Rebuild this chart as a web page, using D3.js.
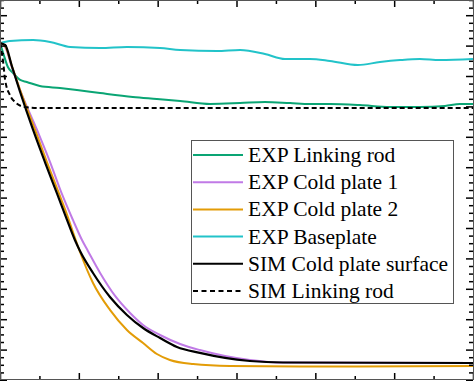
<!DOCTYPE html>
<html><head><meta charset="utf-8">
<script src="https://cdn.jsdelivr.net/npm/d3@7"></script>
<style>html,body{margin:0;padding:0;background:#fff;}svg{display:block;}</style>
</head><body>
<script>
// ---- data (x: time units, y: temperature units) ----
const xLinkExp = [0,0.08,0.20,0.33,0.51,0.68,1.01,1.52,1.95,2.54,3.37,3.98,4.57,5.33,6.09,6.72,7.36,7.86,8.37,9.13,9.89,10.65,11.29,11.67,12];
const yLinkExp = [221.7,215.1,205.9,202.0,197.4,196.1,193.4,192.1,190.8,188.8,186.2,184.9,183.6,181.6,182.2,182.9,182.2,181.6,181.6,180.9,179.6,179.6,180.3,181.6,181.6];

const xCold1 = [0,0.13,0.30,0.51,0.94,1.27,1.57,1.85,2.08,2.23,2.54,2.92,3.30,3.63,4.06,4.57,5.07,5.71,6.34,7.18,12];
const yCold1 = [221.7,219.1,205.9,190.8,164.5,143.4,122.4,105.3,92.1,84.9,70.4,55.3,44.1,36.2,29.6,23.7,19.7,15.8,13.2,11.5,11.2];

const xCold2 = [0,0.13,0.30,0.51,0.89,1.19,1.50,1.73,1.85,2.03,2.36,2.79,3.22,3.63,3.98,4.31,4.90,5.83,7.61,12];
const yCold2 = [221.7,219.7,206.6,190.8,164.5,143.4,122.4,106.6,97.4,84.2,63.8,46.1,32.9,24.3,17.1,13.2,10.5,9.2,8.9,9.2];

const xBase = [0,0.25,0.84,1.27,1.78,2.54,3.22,4.06,4.57,5.50,6.09,6.72,7.23,7.86,8.37,9.08,9.64,10.15,10.65,11.16,12];
const yBase = [221.7,223.0,223.7,222.4,219.1,218.4,219.1,218.4,217.1,216.4,217.1,214.5,211.2,211.2,209.9,207.2,209.2,210.5,211.2,210.5,211.2];

const xSimCold = [0,0.13,0.30,0.51,0.84,1.14,1.45,1.70,1.90,2.03,2.36,2.79,3.22,3.63,4.06,4.49,5.07,5.71,6.34,7.18,12];
const ySimCold = [221.7,220.4,206.6,189.5,164.5,143.4,122.4,105.3,92.1,84.9,70.4,54.6,42.8,34.2,27.6,21.7,17.8,14.5,12.5,11.5,11.2];

const xSimLink = [0,0.08,0.13,0.25,0.38,0.63,1.01,12];
const ySimLink = [221.7,209.2,197.4,187.5,182.9,179.6,178.9,178.9];

const seriesNames = ["EXP Linking rod","EXP Cold plate 1","EXP Cold plate 2","EXP Baseplate","SIM Cold plate surface","SIM Linking rod"];
const seriesColors = ["#0aa574","#c07ae6","#e39c07","#22c3c9","#000000","#000000"];
const xDomain = [0, 12];
const yDomain = [0, 250];

// ---- drawing ----
const W = 474, H = 381;
const svg = d3.select("body").append("svg").attr("width", W).attr("height", H);
const x = d3.scaleLinear().domain(xDomain).range([0, 473]);
const y = d3.scaleLinear().domain(yDomain).range([380, 0]);

svg.append("defs").append("clipPath").attr("id","clip")
  .append("rect").attr("x",0).attr("y",0).attr("width",473).attr("height",380);

const zip = (xs, ys) => xs.map((v,i)=>[v, ys[i]]);
const series = [
  {name: seriesNames[0], data: zip(xLinkExp,yLinkExp), color: seriesColors[0], w: 2, dash: null},
  {name: seriesNames[3], data: zip(xBase,yBase), color: seriesColors[3], w: 2, dash: null},
  {name: seriesNames[1], data: zip(xCold1,yCold1), color: seriesColors[1], w: 2, dash: null},
  {name: seriesNames[2], data: zip(xCold2,yCold2), color: seriesColors[2], w: 2, dash: null},
  {name: seriesNames[4], data: zip(xSimCold,ySimCold), color: seriesColors[4], w: 2.2, dash: null},
  {name: seriesNames[5], data: zip(xSimLink,ySimLink), color: seriesColors[5], w: 2, dash: "5,3"}
];
const line = d3.line().x(d=>x(d[0])).y(d=>y(d[1])).curve(d3.curveMonotoneX);
const g = svg.append("g").attr("clip-path","url(#clip)");
series.forEach(s=>{
  g.append("path").datum(s.data).attr("d", line).attr("fill","none")
    .attr("stroke", s.color).attr("stroke-width", s.w)
    .attr("stroke-dasharray", s.dash).attr("stroke-linejoin","round");
});

// ---- axes with inward ticks ----
function ticks(axisGen, transform, minorVals, majorVals, minorLen, majorLen){
  svg.append("g").attr("transform", transform)
    .call(axisGen.tickValues(minorVals).tickSize(minorLen).tickFormat(""))
    .call(a=>a.select(".domain").remove())
    .call(a=>a.selectAll("line").attr("stroke","#000").attr("stroke-width",1.5));
  svg.append("g").attr("transform", transform)
    .call(axisGen.tickValues(majorVals).tickSize(majorLen).tickFormat(""))
    .call(a=>a.select(".domain").remove())
    .call(a=>a.selectAll("line").attr("stroke","#000").attr("stroke-width",1.5));
}
const xMinor = d3.range(1, 12, 2), xMajor = d3.range(0, 12.01, 2);
const yMinor = d3.range(0, 250.01, 5).filter(v=>v%20!==0), yMajor = d3.range(0, 250.01, 20);
ticks(d3.axisBottom(x), "translate(0,380)", xMinor, xMajor, -4, -7);
ticks(d3.axisTop(x), "translate(0,0)", xMinor, xMajor, -4, -7);
ticks(d3.axisLeft(y), "translate(0,0)", yMinor, yMajor, -4, -7);
ticks(d3.axisRight(y), "translate(473,0)", yMinor, yMajor, -4, -7);

svg.append("rect").attr("x",0.5).attr("y",0.5).attr("width",473).attr("height",379)
  .attr("fill","none").attr("stroke","#555").attr("stroke-width",1);

// ---- legend ----
const lg = svg.append("g");
lg.append("rect").attr("x",191.5).attr("y",140.5).attr("width",262).attr("height",163)
  .attr("fill","#fff").attr("stroke","#555").attr("stroke-width",1);
const legendOrder = [0,1,2,3,4,5];
legendOrder.forEach((si,i)=>{
  const cy = 155 + i*27.2;
  lg.append("line").attr("x1",193).attr("x2",243).attr("y1",cy).attr("y2",cy)
    .attr("stroke", seriesColors[si]).attr("stroke-width",2)
    .attr("stroke-dasharray", si===5 ? "5,3.5" : null);
  lg.append("text").attr("x",248).attr("y",cy+7)
    .attr("font-family","'Liberation Serif','Times New Roman',serif")
    .attr("font-size","21.5px").attr("fill","#000").text(seriesNames[si]);
});
</script>
</body></html>
